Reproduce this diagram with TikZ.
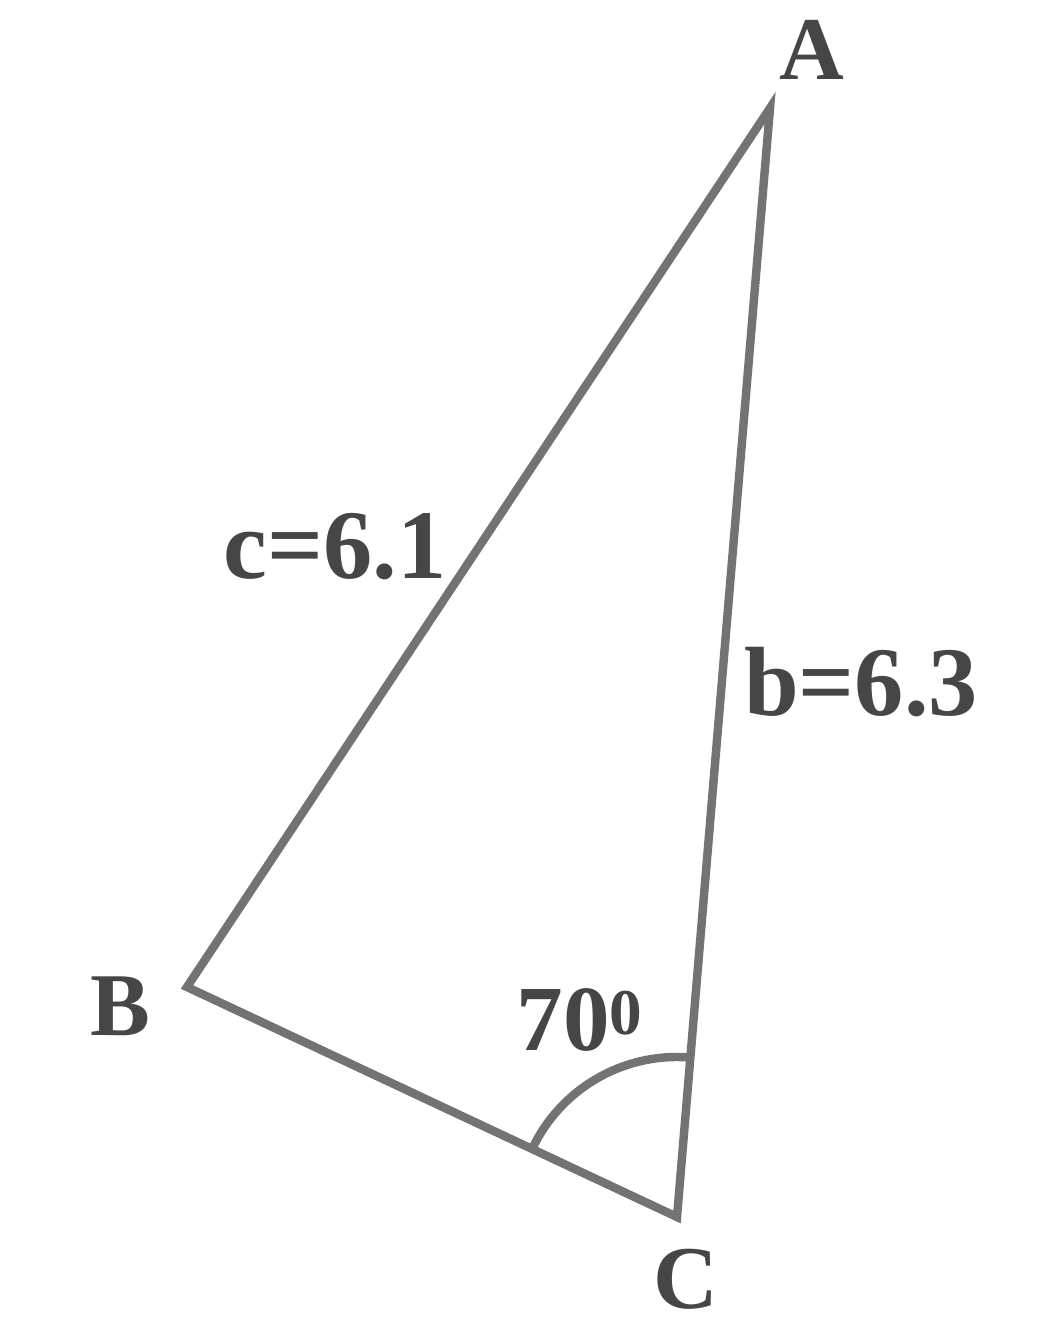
\documentclass[tikz,border=0pt]{standalone}
\usepackage{fontspec}
\setmainfont{Liberation Serif}
\definecolor{edgegray}{HTML}{737373}
\definecolor{textgray}{HTML}{464646}

\begin{document}
\begin{tikzpicture}
	[
		side/.style = {draw=edgegray, line width=4.8pt, line join=miter},
		vertexname/.style = {text=textgray, font=\fontsize{51}{51}\selectfont\bfseries},
		sidename/.style = {text=textgray, font=\fontsize{56}{56}\selectfont\bfseries}]

	\useasboundingbox (0,0) rectangle (20.96,26.62);

	\coordinate (A) at (15.40,24.46);
	\coordinate (B) at (3.74,6.88);
	\coordinate (C) at (13.54,2.28);

	\draw[side] (A) -- (B) -- (C) -- cycle;
	\draw[side] (C) ++(154.9:3.2) coordinate (arcstart) arc[start angle=154.9, end angle=85.2, radius=3.2] coordinate (arcend);

	\node[vertexname] (nameA) at (16.24,25.62) {A};
	\node[vertexname] (nameB) at (2.40,6.50) {B};
	\node[vertexname] (nameC) at (13.72,1.04) {C};

	\node[sidename] (sidec) at (6.70,15.68) {c=6.1};
	\node[sidename] (sideb) at (17.22,12.98) {b=6.3};
	\node[sidename, font=\fontsize{53}{53}\selectfont\bfseries] (angleC) at (11.60,6.22) {70$^{\mathbf{0}}$};
\end{tikzpicture}
\end{document}
